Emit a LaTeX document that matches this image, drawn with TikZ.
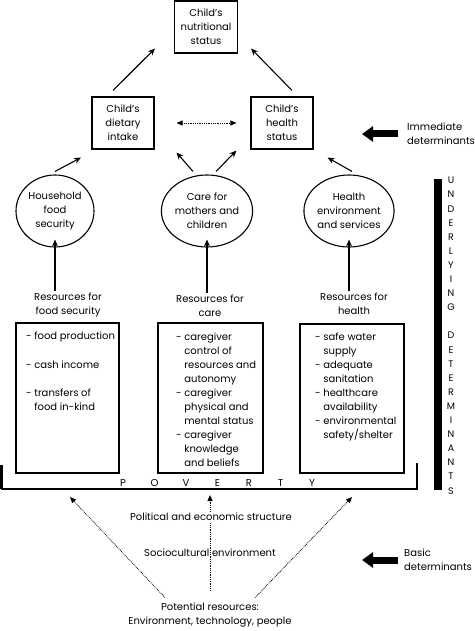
\documentclass[tikz,border=0pt]{standalone}
\usepackage{fontspec}
\setmainfont{Poppins}
\usetikzlibrary{arrows.meta,shapes.geometric}
\begin{document}
\begin{tikzpicture}[x=1pt,y=-1pt,
  font=\fontsize{10}{14}\selectfont,
  every node/.style={inner sep=0pt},
  box/.style={draw, line width=1.1pt, align=center},
  circ/.style={draw, ellipse, line width=1.1pt, align=center, minimum width=78pt, minimum height=72pt},
  lab/.style={align=center},
  item/.style={align=left, anchor=north west},
  arr/.style={line width=1.1pt, -{Stealth[length=7pt,width=6pt]}},
  dotarr/.style={line width=0.8pt, densely dotted, -{Triangle[length=6pt,width=5pt]}},
  bigarrow/.style={line width=7pt, -{Triangle[length=11pt,width=15pt]}},
  thinline/.style={line width=1.1pt}]
\useasboundingbox (0,0) rectangle (474,631);

% immediate level
\node[box, minimum width=63pt, minimum height=52pt] (nut) at (206,27) {Child's\\nutritional\\status};
\node[box, minimum width=62pt, minimum height=52pt] (diet) at (123,123) {Child's\\dietary\\intake};
\node[box, minimum width=62pt, minimum height=52pt] (hlth) at (282,123) {Child's\\health\\status};

\draw[arr] ([shift={(-10,-6)}]diet.north) -- ([shift={(-51,-5)}]nut.south);
\draw[arr] ([shift={(10,-6)}]hlth.north) -- ([shift={(45,-5)}]nut.south);
\draw[dotarr, {Triangle[length=6pt,width=5pt]}-{Triangle[length=6pt,width=5pt]}] ([xshift=22]diet.east) -- ([xshift=-14]hlth.west);

% underlying circles
\node[circ] (hfs) at (55,211) {Household\\food\\security};
\node[circ] (care) at (207,211) {Care for\\mothers and\\children};
\node[circ] (henv) at (349,211) {Health\\environment\\and services};

\draw[arr] ([shift={(0,-3)}]hfs.north) -- ([shift={(-42,8)}]diet.south);
\draw[arr] ([shift={(-14,-3)}]care.north) -- ([shift={(22,3)}]diet.south east);
\draw[arr] ([shift={(9,-3)}]care.north) -- ([shift={(-14,1)}]hlth.south west);
\draw[arr] ([shift={(3,-3)}]henv.north) -- ([shift={(14,8)}]hlth.south east);

% resources labels
\node[lab] (r1) at (68,305) {Resources for\\food security};
\node[lab] (r2) at (210,306) {Resources for\\care};
\node[lab] (r3) at (354,304) {Resources for\\health};

\draw[arr] (hfs.south |- r1.north) ++(0,-2) -- ([yshift=8]hfs.south);
\draw[arr] (care.south |- r2.north) ++(0,-2) -- ([yshift=8]care.south);
\draw[arr] (henv.south |- r3.north) ++(0,-2) -- ([yshift=8]henv.south);

% resource boxes
\node[box, minimum width=103pt, minimum height=150pt] (b1) at (67.5,398) {};
\node[box, minimum width=105pt, minimum height=150pt] (b2) at (210.5,398) {};
\node[box, minimum width=104pt, minimum height=149pt] (b3) at (352,398.5) {};

\node[item] (t1) at (26,332) {- food production\\[15pt]- cash income\\[14pt]- transfers of\\\phantom{- }food in-kind};
\node[item] (t2) at (176,333) {- caregiver\\\phantom{- }control of\\\phantom{- }resources and\\\phantom{- }autonomy\\- caregiver\\\phantom{- }physical and\\\phantom{- }mental status\\- caregiver\\\phantom{- }knowledge\\\phantom{- }and beliefs};
\node[item] (t3) at (315,333) {- safe water\\\phantom{- }supply\\- adequate\\\phantom{- }sanitation\\- healthcare\\\phantom{- }availability\\- environmental\\\phantom{- }safety/shelter};

% poverty bracket
\coordinate (pl) at (1.5,465);
\coordinate (pr) at (417,463);
\draw[thinline] (pl) -- (pl |- 0,489) -- (pr |- 0,489) -- (pr);
\draw[line width=2.5pt] (pl) -- (pl |- 0,489);
\foreach \l [count=\i from 0] in {P,O,V,E,R,T,Y}
  \node (pov\i) at (123+31.5*\i,483) {\l};

% basic
\node[lab] (pot) at (210,615) {Potential resources:\\Environment, technology, people};
\coordinate (dl) at (70,497);
\coordinate (dm) at (210,495);
\coordinate (dr) at (352,497);
\draw[dotarr] ([shift={(-45,-5)}]pot.north) -- (dl);
\draw[dotarr] ([shift={(0,-12)}]pot.north) -- (dm);
\draw[dotarr] ([shift={(45,-5)}]pot.north) -- (dr);
\node[lab, fill=white, inner sep=1pt] (pol) at (211,517) {Political and economic structure};
\node[lab] (soc) at (210,553) {Sociocultural environment};

% side labels
\node[align=left, anchor=west] (imm) at (407,134) {Immediate\\determinants};
\draw[bigarrow] ([xshift=-9]imm.west) -- ++(-36,0);
\node[align=left, anchor=west] (bas) at (404,560) {Basic\\determinants};
\draw[bigarrow] ([xshift=-6]bas.west) -- ++(-36,0);

\node[fill=black, minimum width=8pt, minimum height=311pt] (bar) at (438,334.5) {};
\node[align=center, font=\fontsize{9.5}{14.1}\selectfont, anchor=north] (und) at (451,177)
  {U\\N\\D\\E\\R\\L\\Y\\I\\N\\G\\[14.1pt]D\\E\\T\\E\\R\\M\\I\\N\\A\\N\\T\\S};
\end{tikzpicture}
\end{document}
